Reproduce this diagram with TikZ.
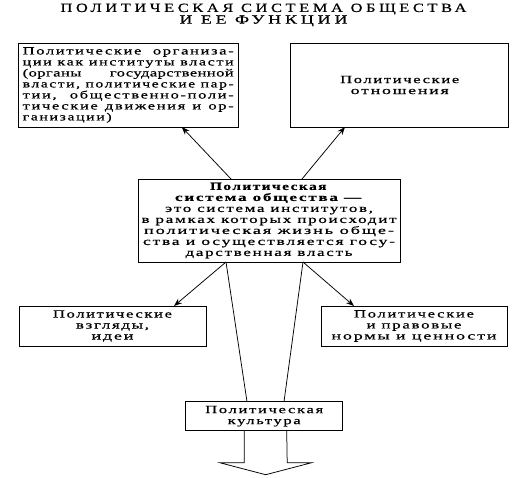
\documentclass[tikz,border=0pt]{standalone}
\usepackage{fontspec}
\usepackage{graphicx}
\setmainfont{Liberation Serif}[FakeStretch=1.5, LetterSpace=15, FakeBold=0.7]
\newfontfamily\titlefont{Liberation Serif}[FakeStretch=1.4, LetterSpace=30, FakeBold=0.6]
\usetikzlibrary{arrows.meta}
\newsavebox\jlbox
\newcommand{\jl}[1]{\sbox\jlbox{#1}\ifdim\wd\jlbox>\linewidth
  \resizebox{\linewidth}{\height}{#1}\else\makebox[\linewidth][s]{#1}\fi\\}
\newcommand{\fitw}[2]{\resizebox{#1pt}{\height}{#2}}
\begin{document}
\begin{tikzpicture}[x=1pt,y=-1pt,
  box/.style={draw, line width=0.9pt, inner sep=0pt, outer sep=0pt},
  arr/.style={line width=0.75pt, -{Stealth[length=8pt,width=6pt]}},
  ln/.style={line width=0.75pt},
  txt/.style={font=\fontsize{11}{11}\selectfont, align=center}]
\useasboundingbox (0,0) rectangle (527,477);
\node[align=center, font=\titlefont\fontsize{12.5}{11.7}\selectfont] (title) at (263.5,15)
  {\fitw{406}{ПОЛИТИЧЕСКАЯ СИСТЕМА ОБЩЕСТВА}\\\fitw{168}{И ЕЕ ФУНКЦИИ}};
\node[box, minimum width=219.7pt, minimum height=84pt, font=\fontsize{11}{11}\selectfont] (org) at (128.2,85)
  {\parbox{211pt}{\fontsize{11}{11}\selectfont
   \jl{Политические организа-}
   \jl{ции как институты власти}
   \jl{\addfontfeatures{LetterSpace=4}(органы государственной}
   \jl{власти, политические пар-}
   \jl{тии, общественно-поли-}
   \jl{тические движения и ор-}
   \fitw{89}{ганизации)}}};
\node[box, minimum width=218pt, minimum height=84pt, txt] (rel) at (399.7,85)
  {\fitw{119}{Политические}\\\fitw{98}{отношения}};
\node[box, minimum width=262pt, minimum height=83pt, txt] (sys) at (269,220.5)
  {\fitw{118}{\textbf{Политическая}}\\\fitw{188}{\textbf{система общества —}}\\
   \fitw{208}{это система институтов,}\\\fitw{255}{в рамках которых происходит}\\
   \fitw{250}{политическая жизнь обще-}\\\fitw{252}{ства и осуществляется госу-}\\
   \fitw{167}{дарственная власть}};
\node[box, minimum width=187pt, minimum height=40pt, txt] (views) at (112.5,326)
  {\fitw{119}{Политические}\\\fitw{73}{взгляды,}\\\fitw{42}{идеи}};
\node[box, minimum width=186pt, minimum height=40pt, txt] (norms) at (414,326)
  {\fitw{120}{Политические}\\\fitw{95}{и правовые}\\\fitw{165}{нормы и ценности}};
\node[box, minimum width=157pt, minimum height=29pt, txt] (cult) at (264.2,416.2)
  {\fitw{118}{Политическая}\\\fitw{73}{культура}};
\coordinate (s1) at ([xshift=93pt]sys.north west);
\coordinate (s2) at ([xshift=164pt]sys.north west);
\coordinate (s3) at ([xshift=88pt]sys.south west);
\coordinate (s4) at ([xshift=165pt]sys.south west);
\draw[arr] (s1) -- ([xshift=163.4pt]org.south west);
\draw[arr] (s2) -- ([xshift=54.3pt]rel.south west);
\draw[arr] (s3) -- ([xshift=155pt]views.north west);
\draw[arr] (s4) -- ([xshift=33pt]norms.north west);
\draw[ln] (s3) -- ([xshift=61.3pt]cult.north west);
\draw[ln] (s4) -- ([xshift=98.3pt]cult.north west);
\draw[ln] ([xshift=58.5pt]cult.south west) -- ++(0,32) -- ++(-24.5,0) -- ++(46,12)
  -- ++(46,-12) -- ++(-24.5,0) -- ([xshift=101pt]cult.south west);
\end{tikzpicture}
\end{document}
